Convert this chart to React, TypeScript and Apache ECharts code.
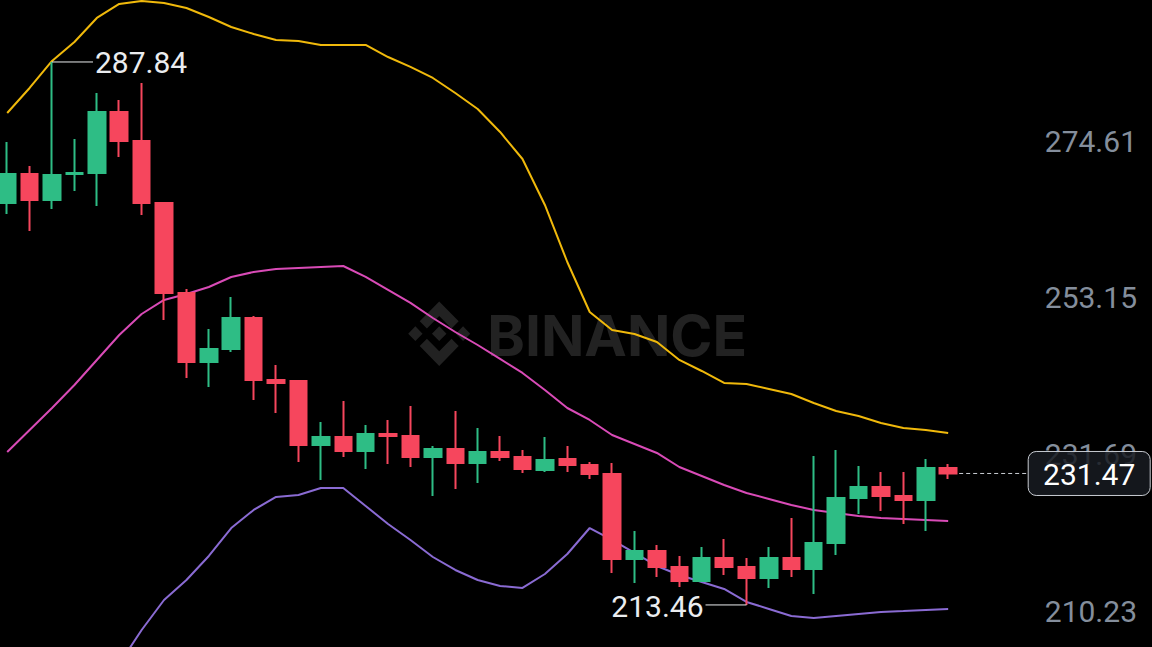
import React, { useEffect, useRef } from "react";
import * as echarts from "echarts";

// ---- Candle data (open, close, low, high) ----
const opens = [
  268.52, 272.5, 268.94, 272.5, 272.64, 280.99, 277.02, 268.52, 256.2, 246.74,
  248.52, 252.77, 244.28, 244.14, 235.37, 236.47, 234.55, 236.88, 236.6, 233.73,
  234.83, 232.91, 234.42, 233.73, 231.95, 233.46, 232.64, 231.4, 219.76, 220.85,
  218.66, 216.74, 219.89, 218.66, 217.16, 219.89, 218.39, 221.95, 228.11, 229.62,
  228.39, 227.84, 232.22,
];
const closes = [
  272.5, 268.94, 272.36, 272.64, 280.99, 277.02, 268.52, 256.2, 246.74, 248.52,
  252.77, 244.28, 243.87, 235.37, 236.47, 234.55, 236.88, 236.6, 233.73, 234.83,
  232.91, 234.42, 233.73, 232.09, 233.32, 232.64, 231.4, 219.76, 220.85, 218.66,
  216.74, 219.89, 218.66, 217.16, 219.89, 218.39, 221.95, 228.11, 229.62, 228.39,
  227.84, 232.22, 231.47,
];
const lows = [
  267.02, 264.69, 267.7, 270.17, 268.11, 274.83, 266.88, 252.5, 244.55, 243.32,
  248.11, 241.54, 239.76, 233.05, 230.58, 233.73, 232.09, 232.77, 232.36, 228.39,
  229.35, 230.17, 233.19, 231.54, 231.68, 231.68, 230.72, 217.84, 216.47, 217.29,
  215.92, 216.74, 217.57, 213.46, 215.79, 217.29, 214.96, 220.31, 225.92, 226.33,
  224.55, 223.59, 230.72,
];
const highs = [
  276.88, 273.59, 287.84, 277.29, 283.59, 282.63, 284.96, 268.6, 256.74, 251.26,
  255.65, 253.05, 246.33, 244.28, 238.52, 241.4, 238.11, 238.8, 240.72, 235.24,
  240.03, 237.7, 236.61, 234.69, 236.47, 235.24, 233.05, 232.91, 223.59, 221.68,
  220.17, 221.4, 222.5, 219.89, 221.4, 225.37, 233.87, 234.69, 232.5, 231.68,
  231.68, 233.46, 232.77,
];

// ---- Bollinger bands ----
const upperBand = [
  280.85, 284.28, 287.98, 290.58, 293.87, 295.79, 296.2, 295.92, 295.24, 294.0,
  292.63, 291.68, 290.85, 290.72, 290.17, 290.17, 290.17, 288.52, 287.16, 285.65,
  283.59, 281.4, 278.25, 274.55, 268.25, 260.44, 253.59, 251.13, 250.58, 249.48,
  247.02, 245.51, 243.87, 243.73, 243.05, 242.36, 241.13, 240.03, 239.35, 238.39,
  237.7, 237.43, 237.02,
];
const middleBand = [
  234.42, 237.43, 240.44, 243.59, 247.02, 250.44, 253.32, 255.24, 256.06, 257.02,
  258.39, 259.07, 259.48, 259.62, 259.76, 259.89, 258.39, 256.61, 254.83, 252.77,
  250.85, 249.07, 247.16, 245.24, 242.91, 240.44, 238.8, 236.74, 235.51, 234.28,
  232.36, 231.13, 229.89, 228.8, 227.98, 227.16, 226.47, 226.06, 225.65, 225.37,
  225.24, 225.1, 224.96,
];
const lowerBand = [
  187.98, 190.58, 192.91, 196.61, 200.17, 205.37, 210.03, 214.14, 216.88, 220.17,
  224.0, 226.47, 228.25, 228.52, 229.48, 229.48, 227.02, 224.55, 222.36, 220.03,
  218.25, 216.88, 216.06, 215.79, 217.7, 220.44, 224.0, 222.36, 220.58, 218.8,
  217.57, 216.61, 215.65, 213.87, 212.91, 211.95, 211.68, 211.95, 212.22, 212.5,
  212.63, 212.77, 212.91,
];

// ---- Axis ----
const yTickLabels = [210.23, 231.69, 253.15, 274.61];
const yMin = 207.7;
const yMax = 296.33;
const emptySlots = 9;

const UP = "#2EBD85";
const DOWN = "#F6465D";

const CAT_W = 22.4;
const TOTAL_CATS = opens.length + emptySlots;
const DX = CAT_W / 2 - 7; // chart div shifted left so the first candle sits at x=7

const LOGO =
  "M38.17 53.2 L63.3 28.07 L88.43 53.2 L103.05 38.58 L63.3 -1.17 L23.55 38.58 Z " +
  "M0 63.3 L14.62 48.68 L29.24 63.3 L14.62 77.92 Z " +
  "M97.37 63.3 L111.99 48.68 L126.61 63.3 L111.99 77.92 Z " +
  "M38.17 73.4 L63.3 98.53 L88.43 73.4 L103.05 88.02 L63.3 127.77 L23.55 88.02 Z " +
  "M63.3 48.47 L78.13 63.3 L63.3 78.13 L48.47 63.3 Z";

let logoRegistered = false;
function ensureLogo() {
  if (logoRegistered) return;
  echarts.graphic.registerShape(
    "binanceLogo",
    (echarts.graphic as any).extendPath(LOGO, {})
  );
  logoRegistered = true;
}

export default function App() {
  const ref = useRef<HTMLDivElement>(null);

  useEffect(() => {
    ensureLogo();
    const el = ref.current!;
    const chart = echarts.init(el, null, { renderer: "svg" });
    const n = opens.length;
    const categories = Array.from({ length: TOTAL_CATS }, (_, i) => String(i + 1));
    const candles = opens.map((o, i) => [o, closes[i], lows[i], highs[i]]);

    chart.setOption({
      animation: false,
      backgroundColor: "#000000",
      grid: { left: 0, right: 0, top: 0, bottom: 0 },
      xAxis: {
        type: "category",
        data: categories,
        boundaryGap: true,
        show: false,
      },
      yAxis: {
        type: "value",
        position: "right",
        min: yMin,
        max: yMax,
        splitLine: { show: false },
        axisLine: { show: false },
        axisTick: { show: false },
        axisLabel: {
          inside: true,
          margin: 24,
          align: "right",
          customValues: yTickLabels,
          formatter: (v: number) => v.toFixed(2),
          color: "#848E9C",
          fontSize: 30,
          fontFamily: "Roboto",
          verticalAlign: "bottom",
          lineHeight: 35,
        },
      },
      series: [
        {
          type: "line",
          data: upperBand,
          showSymbol: false,
          lineStyle: { color: "#F0B90B", width: 2 },
          z: 3,
        },
        {
          type: "line",
          data: middleBand,
          showSymbol: false,
          lineStyle: { color: "#D94BB7", width: 2 },
          z: 3,
        },
        {
          type: "line",
          data: lowerBand,
          showSymbol: false,
          lineStyle: { color: "#8A6BD3", width: 2 },
          z: 3,
        },
        {
          type: "candlestick",
          data: candles,
          barWidth: 17,
          itemStyle: {
            color: UP,
            color0: DOWN,
            borderColor: UP,
            borderColor0: DOWN,
            borderWidth: 2,
          },
          z: 4,
        },
      ],
    });

    const px = (i: number, v: number) =>
      chart.convertToPixel({ xAxisIndex: 0, yAxisIndex: 0 }, [i, v]) as number[];

    let maxI = 0;
    let minI = 0;
    highs.forEach((h, i) => {
      if (h > highs[maxI]) maxI = i;
    });
    lows.forEach((l, i) => {
      if (l < lows[minI]) minI = i;
    });
    const pMax = px(maxI, highs[maxI]);
    const pMin = px(minI, lows[minI]);
    const last = closes[n - 1];
    const pLast = px(n - 1, last);
    const white = "#EAECEF";

    chart.setOption({
      graphic: [
        {
          type: "binanceLogo",
          x: 408 + DX,
          y: 302,
          scaleX: 0.49,
          scaleY: 0.5,
          z: 0,
          style: { fill: "#222222" },
        },
        {
          type: "text",
          x: 487 + DX,
          y: 335,
          z: 0,
          style: {
            text: "BINANCE",
            fill: "#222222",
            fontSize: 57,
            fontWeight: 700,
            fontFamily: "Inter",
            align: "left",
            verticalAlign: "middle",
          },
        },
        {
          type: "line",
          z: 50,
          shape: { x1: pMax[0], y1: pMax[1], x2: pMax[0] + 41, y2: pMax[1] },
          style: { stroke: white, lineWidth: 1 },
        },
        {
          type: "text",
          z: 50,
          x: pMax[0] + 43,
          y: pMax[1] + 1,
          style: {
            text: highs[maxI].toFixed(2),
            fill: white,
            fontSize: 30,
            fontFamily: "Roboto",
            align: "left",
            verticalAlign: "middle",
          },
        },
        {
          type: "line",
          z: 50,
          shape: { x1: pMin[0], y1: pMin[1], x2: pMin[0] - 41, y2: pMin[1] },
          style: { stroke: white, lineWidth: 1 },
        },
        {
          type: "text",
          z: 50,
          x: pMin[0] - 43,
          y: pMin[1] + 2,
          style: {
            text: lows[minI].toFixed(2),
            fill: white,
            fontSize: 30,
            fontFamily: "Roboto",
            align: "right",
            verticalAlign: "middle",
          },
        },
        {
          type: "line",
          z: 50,
          shape: { x1: pLast[0] + 11, y1: pLast[1], x2: 1028 + DX, y2: pLast[1] },
          style: { stroke: "#C8CCD2", lineWidth: 1, lineDash: [4, 3] },
        },
        {
          type: "rect",
          z: 50,
          shape: { x: 1028 + DX, y: pLast[1] - 22, width: 122, height: 44, r: 8 },
          style: { fill: "rgba(24,27,33,0.85)", stroke: "#C8CCD2", lineWidth: 1 },
        },
        {
          type: "text",
          z: 51,
          x: 1089 + DX,
          y: pLast[1] + 1,
          style: {
            text: last.toFixed(2),
            fill: "#FFFFFF",
            fontSize: 30,
            fontFamily: "Roboto",
            align: "center",
            verticalAlign: "middle",
          },
        },
      ],
    });

    return () => chart.dispose();
  }, []);

  return (
    <div
      ref={ref}
      style={{
        position: "fixed",
        left: -DX,
        top: 0,
        width: CAT_W * TOTAL_CATS,
        height: 647,
        background: "#000",
      }}
    />
  );
}
